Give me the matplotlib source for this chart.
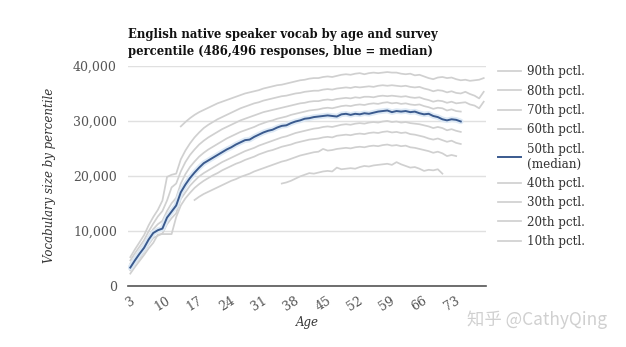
import matplotlib
matplotlib.use("Agg")
import matplotlib.pyplot as plt
import numpy as np

# Vocabulary size (thousands of words) by age, one list per survey percentile
ages_p90 = list(range(14, 81))
p90 = [29.0, 29.8, 30.5, 31.1, 31.6, 32.0, 32.4, 32.8, 33.2, 33.5, 33.8, 34.1, 34.4, 34.7,
       35.0, 35.2, 35.4, 35.6, 35.9, 36.1, 36.3, 36.5, 36.6, 36.8, 37.0, 37.2, 37.4, 37.5,
       37.7, 37.8, 37.8, 38.0, 38.1, 38.0, 38.2, 38.4, 38.5, 38.4, 38.6, 38.7, 38.5, 38.7,
       38.8, 38.7, 38.8, 38.9, 38.8, 38.8, 38.6, 38.5, 38.6, 38.3, 38.4, 38.1, 37.8, 37.6,
       37.9, 38.0, 37.8, 37.9, 37.6, 37.4, 37.5, 37.3, 37.4, 37.5, 37.8]

ages_p80 = list(range(3, 81))
p80 = [5.2, 6.6, 7.9, 9.2, 11.0, 12.5, 13.8, 15.5, 19.8, 20.2, 20.4, 23.0, 24.6, 25.9,
       27.0, 27.9, 28.7, 29.3, 29.8, 30.3, 30.7, 31.1, 31.5, 31.9, 32.3, 32.6, 32.9, 33.2,
       33.4, 33.7, 33.9, 34.1, 34.3, 34.5, 34.6, 34.8, 35.0, 35.1, 35.3, 35.4, 35.5, 35.5,
       35.7, 35.8, 35.7, 35.9, 36.0, 36.1, 36.0, 36.2, 36.1, 36.2, 36.3, 36.2, 36.4, 36.5,
       36.4, 36.5, 36.4, 36.3, 36.4, 36.2, 36.1, 36.2, 35.9, 35.7, 35.4, 35.6, 35.5, 35.2,
       35.4, 35.1, 35.0, 35.3, 34.9, 34.6, 34.1, 35.3]

ages_p70 = list(range(3, 81))
p70 = [4.6, 5.9, 7.1, 8.3, 9.9, 11.3, 12.6, 13.6, 15.5, 17.9, 18.6, 20.8, 22.5, 23.8,
       24.8, 25.7, 26.4, 27.0, 27.5, 28.0, 28.5, 28.9, 29.3, 29.7, 30.1, 30.4, 30.7, 31.0,
       31.3, 31.6, 31.8, 32.0, 32.2, 32.4, 32.6, 32.8, 33.0, 33.2, 33.3, 33.5, 33.6, 33.6,
       33.8, 33.9, 33.8, 34.0, 34.1, 34.2, 34.1, 34.3, 34.2, 34.4, 34.4, 34.3, 34.5, 34.6,
       34.5, 34.6, 34.5, 34.4, 34.5, 34.3, 34.2, 34.3, 34.0, 33.8, 33.5, 33.7, 33.6, 33.3,
       33.5, 33.2, 33.3, 33.4, 33.0, 32.8, 32.3, 33.5]

ages_p60 = list(range(3, 76))
p60 = [4.0, 5.2, 6.4, 7.6, 9.0, 10.3, 11.2, 11.8, 13.6, 15.0, 16.0, 18.6, 20.3, 21.6,
       22.6, 23.5, 24.2, 24.8, 25.3, 25.8, 26.3, 26.8, 27.2, 27.6, 28.0, 28.3, 28.6, 28.9,
       29.3, 29.6, 29.9, 30.1, 30.4, 30.6, 30.8, 31.1, 31.3, 31.5, 31.7, 31.9, 32.0, 32.1,
       32.3, 32.4, 32.3, 32.5, 32.7, 32.8, 32.7, 32.9, 33.0, 32.9, 33.1, 33.2, 33.1, 33.3,
       33.4, 33.2, 33.3, 33.1, 33.2, 33.0, 32.9, 33.0, 32.7, 32.5, 32.2, 32.4, 32.3, 31.9,
       32.1, 31.8, 31.7]

ages_p50 = list(range(3, 76))
p50 = [3.3, 4.6, 5.8, 6.9, 8.4, 9.6, 10.1, 10.4, 12.4, 13.5, 14.6, 17.0, 18.4, 19.6,
       20.6, 21.5, 22.3, 22.8, 23.3, 23.8, 24.3, 24.8, 25.2, 25.7, 26.1, 26.5, 26.6, 27.1,
       27.5, 27.9, 28.2, 28.4, 28.8, 29.1, 29.2, 29.6, 29.9, 30.1, 30.4, 30.5, 30.7, 30.8,
       30.9, 31.0, 30.9, 30.8, 31.2, 31.3, 31.1, 31.3, 31.2, 31.4, 31.3, 31.5, 31.7, 31.8,
       31.9, 31.6, 31.8, 31.7, 31.8, 31.6, 31.7, 31.4, 31.2, 31.3, 30.9, 30.7, 30.3, 30.1,
       30.3, 30.2, 29.9]

ages_p40 = list(range(3, 76))
p40 = [2.8, 4.0, 5.0, 6.2, 7.5, 8.7, 9.1, 9.5, 11.2, 12.3, 13.2, 15.8, 17.0, 18.2,
       19.1, 19.9, 20.5, 21.0, 21.5, 22.0, 22.5, 22.9, 23.3, 23.7, 24.1, 24.5, 24.8, 25.1,
       25.5, 25.8, 26.1, 26.4, 26.7, 27.0, 27.2, 27.5, 27.8, 28.0, 28.2, 28.4, 28.6, 28.7,
       28.9, 29.0, 28.9, 29.1, 29.3, 29.4, 29.3, 29.5, 29.6, 29.5, 29.7, 29.8, 29.7, 29.9,
       30.0, 29.8, 29.9, 29.7, 29.8, 29.6, 29.5, 29.4, 29.2, 29.0, 28.7, 28.9, 28.7, 28.3,
       28.5, 28.2, 28.0]

ages_p30 = list(range(3, 76))
p30 = [2.2, 3.4, 4.5, 5.6, 6.8, 7.8, 9.3, 9.4, 9.4, 9.4, 12.5, 14.6, 15.9, 16.9,
       17.8, 18.5, 19.1, 19.6, 20.1, 20.5, 21.0, 21.4, 21.8, 22.2, 22.5, 22.9, 23.2, 23.5,
       23.9, 24.2, 24.5, 24.7, 25.0, 25.3, 25.5, 25.7, 26.0, 26.2, 26.4, 26.6, 26.7, 26.8,
       27.0, 27.1, 27.0, 27.3, 27.4, 27.5, 27.4, 27.6, 27.7, 27.6, 27.8, 27.9, 27.8, 28.0,
       28.1, 27.9, 28.0, 27.8, 27.9, 27.6, 27.5, 27.3, 27.1, 26.8, 26.6, 26.8, 26.5, 26.2,
       26.4, 26.0, 25.8]

ages_p20 = list(range(17, 75))
p20 = [15.6, 16.2, 16.7, 17.1, 17.5, 17.9, 18.3, 18.7, 19.1, 19.4, 19.8, 20.1, 20.4,
       20.8, 21.1, 21.4, 21.7, 22.0, 22.3, 22.6, 22.8, 23.1, 23.4, 23.7, 23.9, 24.1, 24.3,
       24.4, 24.9, 24.6, 24.7, 24.9, 25.0, 25.1, 25.0, 25.2, 25.3, 25.2, 25.4, 25.5, 25.4,
       25.6, 25.7, 25.5, 25.6, 25.4, 25.5, 25.2, 25.1, 24.9, 24.7, 24.5, 24.2, 24.4, 24.1,
       23.6, 23.8, 23.6]

ages_p10 = list(range(36, 72))
p10 = [18.6, 18.8, 19.1, 19.5, 19.9, 20.2, 20.5, 20.4, 20.6, 20.8, 20.9, 20.8, 21.5,
       21.2, 21.3, 21.4, 21.3, 21.6, 21.8, 21.7, 21.9, 22.0, 22.1, 22.2, 22.0, 22.5, 22.1,
       21.8, 21.5, 21.6, 21.3, 20.9, 21.1, 21.0, 21.2, 20.4]

series_labels = ["90th pctl.", "80th pctl.", "70th pctl.", "60th pctl.",
                 "50th pctl.\n(median)", "40th pctl.", "30th pctl.", "20th pctl.",
                 "10th pctl."]
series_ages = [ages_p90, ages_p80, ages_p70, ages_p60, ages_p50, ages_p40,
               ages_p30, ages_p20, ages_p10]
series_vals = [p90, p80, p70, p60, p50, p40, p30, p20, p10]

age_ticks = [3, 10, 17, 24, 31, 38, 45, 52, 59, 66, 73]
vocab_ticks = [0, 10000, 20000, 30000, 40000]

W, H = 626, 347
fig = plt.figure(figsize=(W / 100, H / 100), dpi=100)
fig.patch.set_facecolor("white")

ax = fig.add_axes([128 / W, (H - 285.7) / H, (486 - 128) / W, (285.7 - 66) / H])

grey = "#d0d0d0"
blue = "#3a5a8e"
for lab, a, v in zip(series_labels, series_ages, series_vals):
    y = np.array(v) * 1000
    if lab.startswith("50th"):
        ax.plot(a, y, color="#dde9f5", lw=4.0, solid_capstyle="round", zorder=3)
        ax.plot(a, y, color=blue, lw=1.4, zorder=4, label=lab)
    else:
        ax.plot(a, y, color=grey, lw=1.25, zorder=2, label=lab)

ax.set_xlim(2.5, 80.5)
ax.set_ylim(0, 40000)
ax.set_yticks(vocab_ticks)
ax.set_yticklabels([f"{t:,}" for t in vocab_ticks])
ax.set_xticks(age_ticks)
ax.set_xticklabels([str(t) for t in age_ticks], rotation=32)

ax.grid(axis="y", color="#e0e0e0", lw=1.0, zorder=0)
ax.set_axisbelow(True)
for s in ["top", "right", "left"]:
    ax.spines[s].set_visible(False)
ax.spines["bottom"].set_color("#555555")
ax.spines["bottom"].set_linewidth(1.2)
ax.tick_params(length=0, labelsize=9, labelcolor="#555555")
ax.tick_params(axis="y", pad=8)
ax.tick_params(axis="x", pad=6)
for t in ax.get_yticklabels() + ax.get_xticklabels():
    t.set_fontfamily("DejaVu Serif")

ax.set_xlabel("Age", fontfamily="DejaVu Serif", style="italic", fontsize=8.5,
              color="#333333", labelpad=2)
ax.set_ylabel("Vocabulary size by percentile", fontfamily="DejaVu Serif",
              style="italic", fontsize=8.5, color="#333333", labelpad=12)

fig.text(128 / W, 1 - 28 / H,
         "English native speaker vocab by age and survey\n"
         "percentile (486,496 responses, blue = median)",
         fontfamily="DejaVu Serif", fontweight="bold", fontsize=8.4,
         color="#111111", va="top", ha="left", linespacing=1.4)

leg = ax.legend(loc="upper left", bbox_to_anchor=(1.02, 1.025), frameon=False,
                prop={"family": "DejaVu Serif", "size": 8.6},
                handlelength=1.9, handletextpad=0.5, labelspacing=0.53,
                borderaxespad=0)
for t in leg.get_texts():
    t.set_color("#333333")

fig.text(607 / W, 1 - 320 / H, "知乎 @CathyQing", color="#d0d0d0", fontsize=12.5,
         family=["Noto Sans CJK SC", "DejaVu Sans"], ha="right", va="center")

fig.savefig("out.png", dpi=100, facecolor="white")
